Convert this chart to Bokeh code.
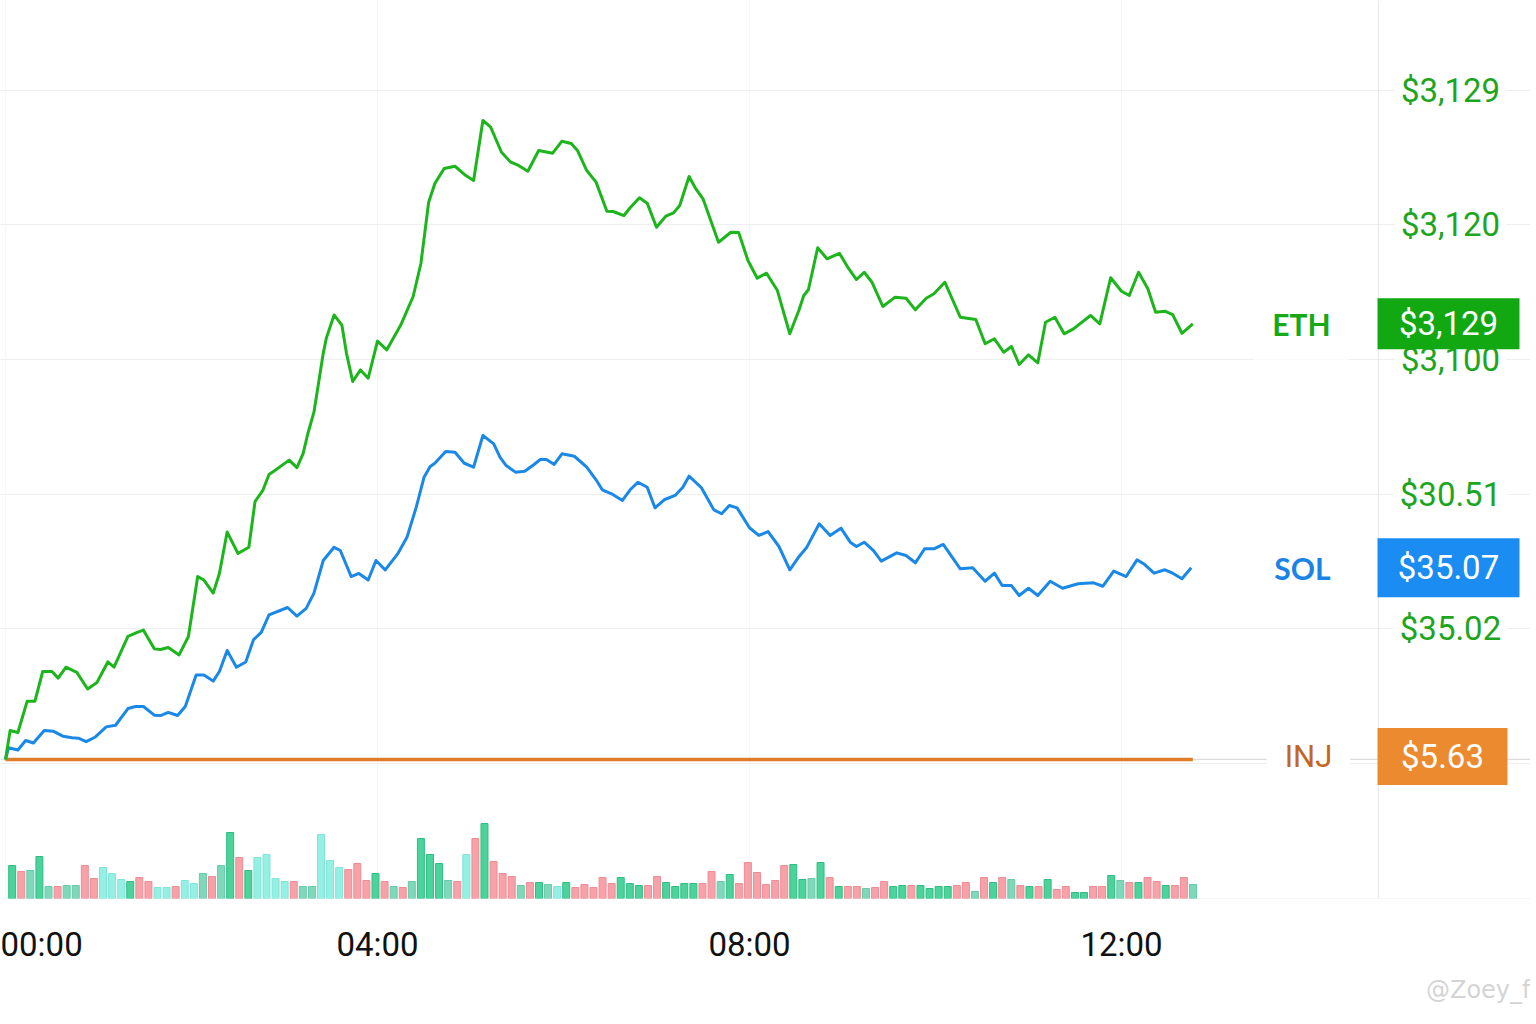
from bokeh.plotting import figure
from bokeh.models import Range1d, FixedTicker, Span, Label, Title
from bokeh.embed import file_html
from bokeh.resources import INLINE

# ---------------- data (minutes since 00:00, % change from start) ----------------
ETH_MIN = [0, 3, 8, 14, 19, 24, 30, 34, 39, 46,
           53, 59, 66, 70, 79, 85, 89, 96, 100, 105,
           112, 118, 124, 128, 134, 138, 143, 150, 157, 161,
           166, 170, 174, 183, 188, 192, 195, 199, 205, 207,
           212, 217, 220, 224, 229, 234, 240, 246, 255, 263,
           268, 273, 277, 283, 290, 297, 302, 308, 313, 320,
           326, 331, 337, 344, 353, 359, 365, 369, 375, 381,
           388, 392, 399, 403, 409, 414, 420, 426, 431, 435,
           441, 445, 450, 460, 468, 473, 479, 485, 491, 498,
           506, 512, 515, 518, 524, 530, 538, 544, 549, 554,
           559, 566, 574, 581, 587, 594, 599, 606, 616, 626,
           632, 638, 644, 649, 654, 660, 666, 671, 677, 683,
           689, 700, 706, 713, 720, 725, 731, 737, 742, 748,
           753, 759, 766]
ETH_PCT = [0.030, 0.245, 0.230, 0.463, 0.463, 0.683, 0.683, 0.634, 0.715, 0.676,
           0.553, 0.601, 0.754, 0.715, 0.943, 0.973, 0.990, 0.851, 0.846, 0.861,
           0.806, 0.943, 1.388, 1.362, 1.265, 1.411, 1.718, 1.559, 1.605, 1.945,
           2.027, 2.146, 2.177, 2.252, 2.197, 2.301, 2.446, 2.608, 3.045, 3.158,
           3.330, 3.255, 3.045, 2.836, 2.922, 2.860, 3.136, 3.071, 3.255, 3.467,
           3.712, 4.167, 4.306, 4.417, 4.434, 4.365, 4.328, 4.774, 4.724, 4.538,
           4.464, 4.440, 4.397, 4.551, 4.531, 4.620, 4.603, 4.551, 4.402, 4.316,
           4.100, 4.098, 4.068, 4.126, 4.200, 4.160, 3.981, 4.063, 4.088, 4.143,
           4.358, 4.274, 4.192, 3.870, 3.944, 3.942, 3.734, 3.603, 3.640, 3.511,
           3.190, 3.368, 3.474, 3.517, 3.829, 3.747, 3.788, 3.673, 3.593, 3.647,
           3.573, 3.393, 3.462, 3.454, 3.368, 3.454, 3.487, 3.573, 3.313, 3.296,
           3.116, 3.153, 3.053, 3.096, 2.962, 3.034, 2.975, 3.276, 3.313, 3.190,
           3.227, 3.326, 3.264, 3.606, 3.506, 3.474, 3.647, 3.524, 3.350, 3.358,
           3.333, 3.194, 3.264]

SOL_MIN = [0, 2, 8, 13, 18, 25, 31, 37, 43, 47,
           52, 58, 65, 71, 79, 84, 89, 96, 100, 105,
           111, 116, 123, 128, 134, 138, 143, 149, 155, 160,
           165, 170, 182, 188, 194, 199, 205, 212, 216, 223,
           228, 234, 239, 245, 253, 259, 265, 270, 274, 277,
           284, 290, 296, 302, 308, 315, 319, 323, 329, 335,
           341, 345, 349, 354, 359, 367, 375, 381, 385, 391,
           398, 403, 408, 414, 419, 425, 432, 437, 441, 449,
           457, 462, 467, 472, 480, 486, 492, 499, 506, 512,
           517, 525, 532, 539, 545, 549, 554, 560, 565, 575,
           581, 587, 593, 599, 605, 616, 624, 632, 638, 643,
           649, 654, 660, 666, 674, 682, 692, 702, 708, 715,
           723, 730, 735, 741, 748, 753, 759, 765]
SOL_PCT = [0.030, 0.117, 0.100, 0.171, 0.152, 0.245, 0.239, 0.203, 0.191, 0.188,
           0.162, 0.197, 0.272, 0.284, 0.408, 0.423, 0.423, 0.359, 0.356, 0.379,
           0.356, 0.423, 0.657, 0.657, 0.612, 0.683, 0.839, 0.715, 0.754, 0.919,
           0.974, 1.103, 1.158, 1.094, 1.152, 1.265, 1.507, 1.605, 1.581, 1.388,
           1.411, 1.362, 1.507, 1.437, 1.556, 1.679, 1.903, 2.125, 2.205, 2.229,
           2.316, 2.311, 2.229, 2.200, 2.435, 2.373, 2.274, 2.212, 2.163, 2.170,
           2.220, 2.257, 2.257, 2.220, 2.299, 2.281, 2.200, 2.106, 2.032, 2.002,
           1.953, 2.032, 2.088, 2.051, 1.898, 1.958, 1.990, 2.051, 2.133, 2.047,
           1.883, 1.854, 1.915, 1.898, 1.750, 1.693, 1.722, 1.611, 1.438, 1.537,
           1.606, 1.780, 1.693, 1.747, 1.643, 1.611, 1.643, 1.581, 1.502, 1.564,
           1.544, 1.490, 1.594, 1.594, 1.626, 1.445, 1.453, 1.353, 1.413, 1.321,
           1.321, 1.247, 1.301, 1.247, 1.353, 1.301, 1.334, 1.341, 1.316, 1.428,
           1.388, 1.512, 1.477, 1.413, 1.438, 1.413, 1.371, 1.453]

INJ_MIN = [0, 766]
INJ_PCT = [0.03, 0.03]

# volume bars (relative volume), one bar every VOL_STEP minutes
VOL_FIRST = 4.3
VOL_STEP = 5.86
VOL = [33, 27, 28, 42, 12, 12, 13, 13, 33, 20,
       31, 25, 19, 17, 21, 17, 11, 11, 12, 18,
       15, 25, 22, 33, 66, 41, 28, 41, 44, 20,
       17, 17, 12, 12, 64, 38, 31, 29, 35, 18,
       25, 17, 12, 11, 17, 60, 44, 35, 18, 17,
       44, 60, 75, 37, 25, 22, 13, 16, 16, 14,
       12, 16, 11, 14, 11, 21, 15, 21, 15, 13,
       13, 22, 16, 12, 15, 15, 15, 27, 17, 24,
       15, 36, 26, 14, 18, 33, 34, 19, 20, 36,
       21, 12, 12, 12, 10, 11, 17, 12, 13, 13,
       13, 10, 12, 12, 13, 16, 7, 21, 16, 21,
       19, 13, 12, 12, 19, 9, 12, 6, 6, 12,
       12, 23, 18, 16, 16, 21, 17, 13, 13, 21,
       14]
VOL_KIND = list("gpmgmpmmpp" "cccgppccpc" "cmpmgpgccc" "cpmmcccppp"
                "gpmpmgggmp" "cpgpppmpgm" "cgpppppggg" "ppggggppmg"
                "ppppppggmg" "pgppmppggp" "ggggppmpgp" "mpgpgppggp"
                "pgmpgppgpp" "m")

X_TICKS = [0, 240, 480, 720]
X_LABELS = ["00:00", "04:00", "08:00", "12:00"]
GRID_PCT = [-1, 0, 1, 2, 3, 4, 5]
RIGHT_PCT = [5, 4, 3, 2, 1]
RIGHT_LABELS = ["$3,129", "$3,120", "$3,100", "$30.51", "$35.02"]

SERIES = ["ETH", "SOL", "INJ"]
BADGE_TEXT = ["$3,129", "$35.07", "$5.63"]
WATERMARK = "@Zoey_f"

# ---------------- styling ----------------
SANS = "Roboto"
GEO = "Lato"
ETH_C, SOL_C, INJ_C = "#1cb51c", "#1a88e8", "#e07b28"
BADGE_C = ["#12a812", "#1a8cf2", "#ec8a30"]
NAME_C = ["#17a817", "#1a84e6", "#c4661f"]
KIND_FILL = {"g": "#4bd39b", "m": "#80d8ba", "c": "#95efe3", "p": "#f7a1a9"}
KIND_LINE = {"g": "#2fbd83", "m": "#67caa8", "c": "#7ee5d8", "p": "#ef8c96"}

W, FH = 1530, 898
PX_PER_MIN = 1.55
X0 = -5 / PX_PER_MIN
X1 = X0 + W / PX_PER_MIN
PX_PER_PCT = 134.7
Y1 = 763 / PX_PER_PCT
Y0 = Y1 - FH / PX_PER_PCT


def px2x(px):
    return X0 + px / PX_PER_MIN


def px2y(h):
    return h / PX_PER_PCT


p = figure(frame_width=W, frame_height=FH, x_range=Range1d(X0, X1),
           y_range=Range1d(Y0, Y1), output_backend="svg", toolbar_location=None,
           min_border=0, outline_line_color=None, background_fill_color="white",
           border_fill_color="white")

p.yaxis.visible = False
p.ygrid.ticker = FixedTicker(ticks=GRID_PCT)
p.ygrid.grid_line_color = "#eeeeee"
p.ygrid.grid_line_width = 1
xt = FixedTicker(ticks=X_TICKS)
p.xaxis.ticker = xt
p.xgrid.ticker = xt
p.xgrid.grid_line_color = "#f6f6f6"
p.xaxis.major_label_overrides = {t: l for t, l in zip(X_TICKS, X_LABELS)}
p.xaxis.axis_line_color = None
p.xaxis.major_tick_line_color = None
p.xaxis.minor_tick_line_color = None
p.xaxis.major_label_text_font = SANS
p.xaxis.major_label_text_font_size = "33px"
p.xaxis.major_label_text_color = "#111111"
p.xaxis.major_label_standoff = 20

p.add_layout(Title(text=WATERMARK, align="right", text_font="DejaVu Sans",
                   text_font_size="24px", text_color="#d4d4d4", text_font_style="normal",
                   standoff=14), "below")

# divider between plot area and price scale
p.add_layout(Span(location=px2x(1378), dimension="height", line_color="#e6e6e6",
                  line_width=1, level="underlay"))
# INJ reference line (under everything)
p.add_layout(Span(location=INJ_PCT[-1], dimension="width", line_color="#dcdcdc",
                  line_width=1.2, level="underlay"))

# right price scale labels (below the badges)
for v, t in zip(RIGHT_PCT, RIGHT_LABELS):
    p.add_layout(Label(x=px2x(1450), y=v, text=t, text_font=SANS, text_font_size="33px",
                       text_color="#1ea51e", text_align="center", text_baseline="middle",
                       background_fill_color="white", padding=6, level="underlay"))

# volume
p.extra_y_ranges = {"vol": Range1d(0, FH)}
vol_x = [VOL_FIRST + i * VOL_STEP for i in range(len(VOL))]
p.vbar(x=vol_x, top=VOL, bottom=0, width=4.5, y_range_name="vol",
       fill_color=[KIND_FILL[k] for k in VOL_KIND],
       line_color=[KIND_LINE[k] for k in VOL_KIND], line_width=1)

# lines
p.line(INJ_MIN, INJ_PCT, line_color=INJ_C, line_width=3.5)
p.line(SOL_MIN, SOL_PCT, line_color=SOL_C, line_width=3, line_join="round")
p.line(ETH_MIN, ETH_PCT, line_color=ETH_C, line_width=3, line_join="round")

# badges + names at last values
last = [ETH_PCT[-1], SOL_PCT[-1], INJ_PCT[-1]]
b_h = [51, 59, 57]
b_r = [1519, 1519, 1507]
b_dy = [0, 0, 3]
name_x = [1301, 1302, 1308]
for i, name in enumerate(SERIES):
    yv = last[i] + px2y(b_dy[i])
    p.quad(left=[px2x(1377)], right=[px2x(b_r[i])],
           bottom=[yv - px2y(b_h[i]) / 2], top=[yv + px2y(b_h[i]) / 2],
           fill_color=BADGE_C[i], line_color=None)
    p.add_layout(Label(x=px2x((1377 + b_r[i]) / 2), y=yv, text=BADGE_TEXT[i], text_font=SANS,
                       text_font_size="33px", text_color="white", text_align="center",
                       text_baseline="middle"))
    is_inj = name == "INJ"
    p.add_layout(Label(x=px2x(name_x[i]), y=yv, text=name,
                       text_font=SANS if is_inj else GEO,
                       text_font_size="31px" if is_inj else "30px",
                       text_font_style="normal" if is_inj else "bold",
                       text_color=NAME_C[i], text_align="center", text_baseline="middle",
                       background_fill_color="white", padding=18))

open("out.html", "w").write(file_html(p, INLINE))
